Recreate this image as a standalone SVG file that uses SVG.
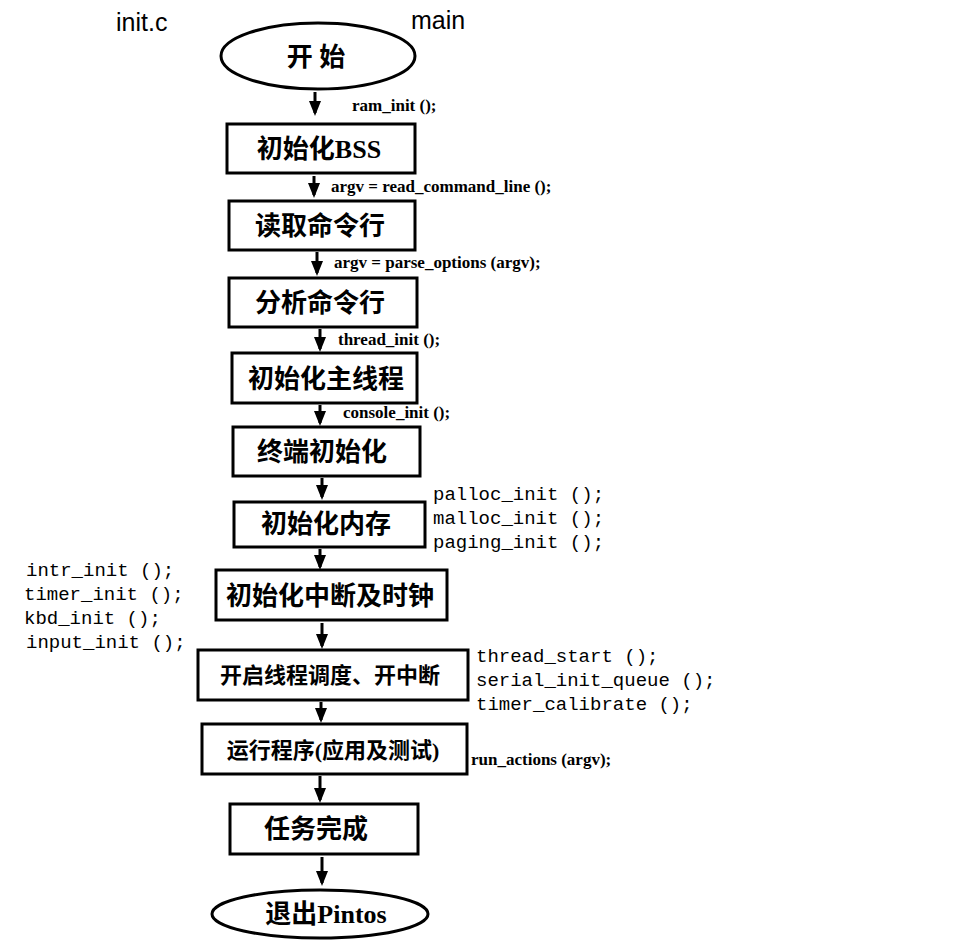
<svg xmlns="http://www.w3.org/2000/svg" width="978" height="942" viewBox="0 0 978 942">
<style>
.b{fill:#fff;stroke:#000;stroke-width:3}
.t{font-family:"Liberation Serif","Noto Sans CJK SC",serif;font-weight:bold;font-size:26px;text-anchor:middle}
.l{font-family:"Liberation Serif",serif;font-weight:bold;font-size:17px}
.m{font-family:"Liberation Mono",monospace;font-size:19px}
.h{font-family:"Liberation Sans",sans-serif;font-size:25px}
.c{stroke:#000;stroke-width:3;marker-end:url(#a)}
</style>
<defs><marker id="a" markerWidth="5" markerHeight="4" refX="4" refY="2" orient="auto"><path d="M0,0L5,2L0,4z"/></marker></defs>
<text class="h" x="116" y="31">init.c</text>
<text class="h" x="411" y="29">main</text>
<g id="start"><ellipse class="b" cx="318" cy="56" rx="97" ry="33"/><text class="t" x="316" y="66">开 始</text></g>
<g id="n1"><rect class="b" x="227" y="124" width="188" height="49"/><text class="t" x="319" y="158">初始化BSS</text></g>
<g id="n2"><rect class="b" x="229" y="201" width="186" height="49"/><text class="t" x="320" y="235">读取命令行</text></g>
<g id="n3"><rect class="b" x="229" y="278" width="188" height="49"/><text class="t" x="320" y="312">分析命令行</text></g>
<g id="n4"><rect class="b" x="232" y="353" width="185" height="50"/><text class="t" x="326" y="388">初始化主线程</text></g>
<g id="n5"><rect class="b" x="233" y="427" width="187" height="49"/><text class="t" x="322" y="461">终端初始化</text></g>
<g id="n6"><rect class="b" x="234" y="502" width="191" height="45"/><text class="t" x="326" y="533">初始化内存</text></g>
<g id="n7"><rect class="b" x="216" y="570" width="231" height="50"/><text class="t" x="330" y="605">初始化中断及时钟</text></g>
<g id="n8"><rect class="b" x="198" y="650" width="270" height="50"/><text class="t" x="330" y="683" style="font-size:22px">开启线程调度、开中断</text></g>
<g id="n9"><rect class="b" x="202" y="724" width="265" height="50"/><text class="t" x="333" y="758" style="font-size:22px">运行程序(应用及测试)</text></g>
<g id="n10"><rect class="b" x="230" y="804" width="188" height="50"/><text class="t" x="316" y="838">任务完成</text></g>
<g id="end"><ellipse class="b" cx="320" cy="914" rx="108" ry="24"/><text class="t" x="326" y="923">退出Pintos</text></g>
<g id="connectors">
<line class="c" x1="315" y1="92" x2="315" y2="113"/>
<line class="c" x1="314" y1="176" x2="314" y2="195"/>
<line class="c" x1="317" y1="252" x2="317" y2="273"/>
<line class="c" x1="320" y1="329" x2="320" y2="349"/>
<line class="c" x1="320" y1="405" x2="320" y2="423"/>
<line class="c" x1="322" y1="478" x2="322" y2="497"/>
<line class="c" x1="320" y1="549" x2="320" y2="567"/>
<line class="c" x1="322" y1="623" x2="322" y2="646"/>
<line class="c" x1="321" y1="702" x2="321" y2="720"/>
<line class="c" x1="320" y1="776" x2="320" y2="800"/>
<line class="c" x1="322" y1="857" x2="322" y2="883"/>
</g>
<g id="labels">
<text class="l" x="352" y="111">ram_init ();</text>
<text class="l" x="331" y="192">argv = read_command_line ();</text>
<text class="l" x="334" y="268">argv = parse_options (argv);</text>
<text class="l" x="338" y="345">thread_init ();</text>
<text class="l" x="343" y="418">console_init ();</text>
<text class="m" x="433" y="500">palloc_init ();</text>
<text class="m" x="433" y="524">malloc_init ();</text>
<text class="m" x="433" y="548">paging_init ();</text>
<text class="m" x="26" y="576">intr_init ();</text>
<text class="m" x="24" y="600">timer_init ();</text>
<text class="m" x="24" y="624">kbd_init ();</text>
<text class="m" x="26" y="648">input_init ();</text>
<text class="m" x="476" y="662">thread_start ();</text>
<text class="m" x="476" y="686">serial_init_queue ();</text>
<text class="m" x="476" y="710">timer_calibrate ();</text>
<text class="l" x="471" y="765">run_actions (argv);</text>
</g>
</svg>
